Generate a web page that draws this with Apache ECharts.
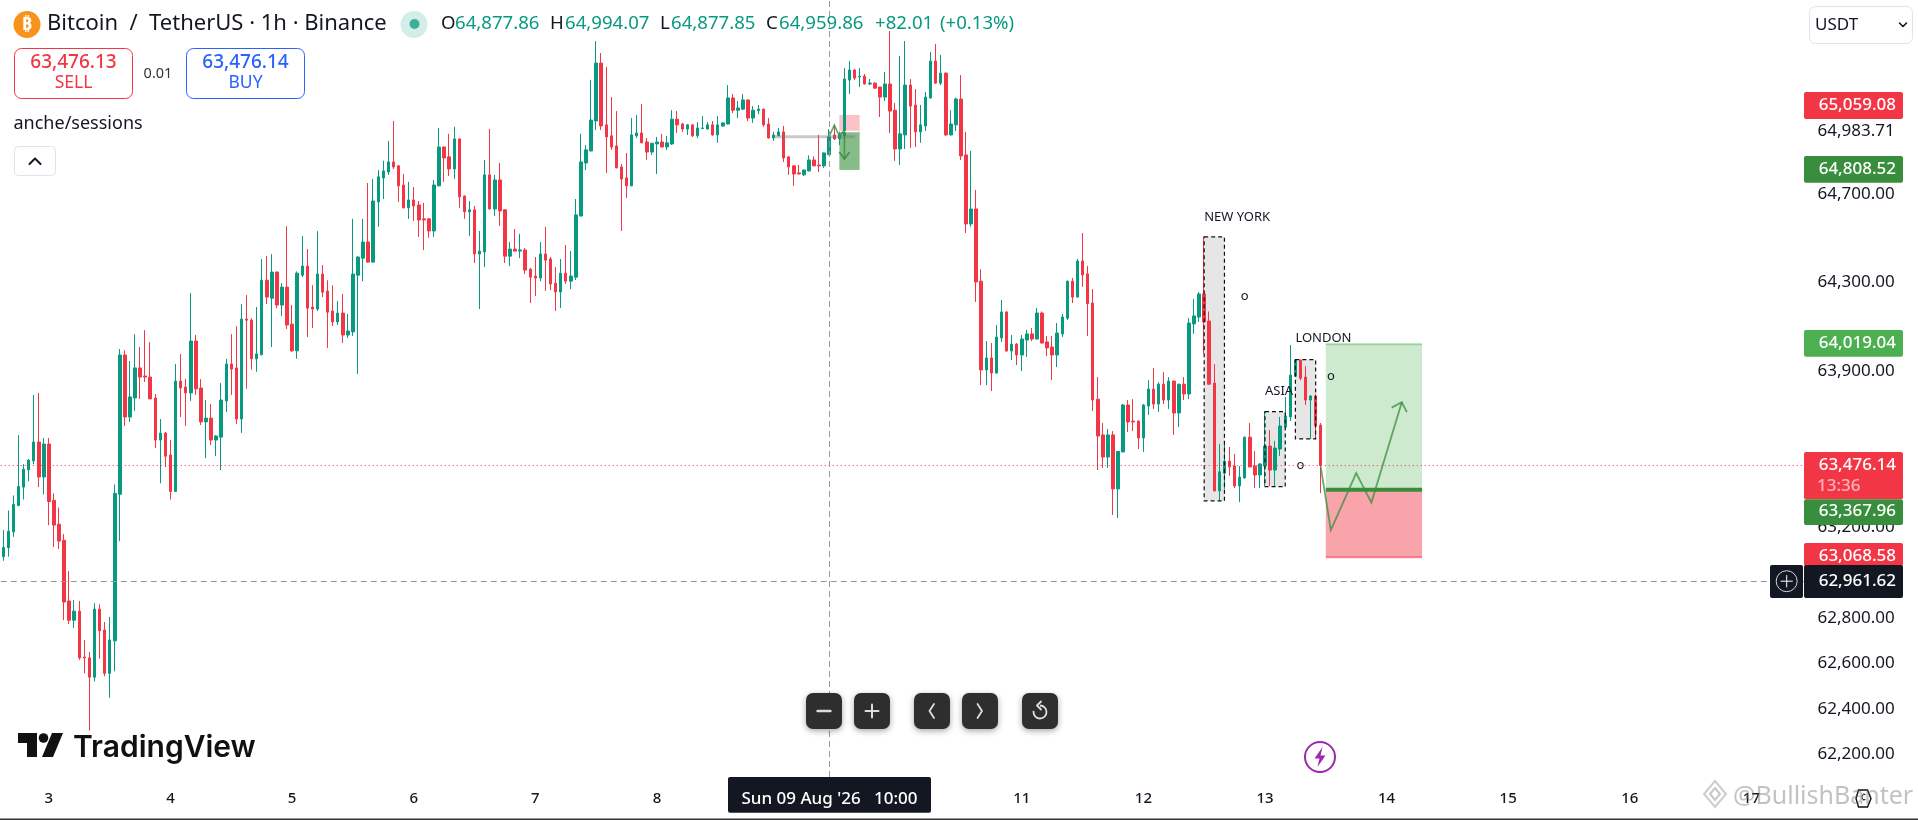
<!DOCTYPE html>
<html>
<head>
<meta charset="utf-8">
<style>html,body{margin:0;padding:0;background:#fff;overflow:hidden}#c{width:1918px;height:820px}</style>
<script src="https://cdn.jsdelivr.net/npm/echarts@6/dist/echarts.min.js"></script>
</head>
<body>
<div id="c"></div>
<script>
var opens=[63071,63111,63181,63298,63380,63457,63497,63581,63425,63572,
63321,63215,63144,62875,62790,62830,62628,62624,62539,62839,
62747,62556,62699,63348,63971,63693,63778,63913,63877,63872,
63778,63590,63621,63523,63361,63854,63827,63801,64034,63823,
63671,63688,63590,63603,63765,63931,63913,63684,64133,64128,
63954,63972,64308,64227,64345,64196,64277,64110,63990,64331,
64372,64187,64178,64336,64259,64169,64120,64160,64061,64075,
64331,64408,64481,64390,64663,64772,64799,64845,64827,64740,
64636,64672,64649,64586,64586,64531,64736,64913,64868,64813,
64950,64690,64618,64627,64427,64436,64786,64631,64763,64627,
64417,64449,64440,64445,64358,64327,64318,64427,64404,64295,
64255,64340,64304,64322,64599,64840,64895,65032,65297,65014,
64964,64918,64822,64772,64736,64964,64977,64936,64890,64927,
64936,64913,64927,65040,65018,64995,65014,64964,64997,64995,
65014,64968,65009,65018,65137,65081,65086,65128,65045,65079,
65086,65018,64954,64964,64982,64868,64827,64795,64786,64804,
64854,64831,64827,64877.86,64968,64950,64964,65219,65265,65233,
65237,65201,65205,65187,65141,65201,65081,64904,64968,65196,
65105,64982,65009,65137,65306,65205,65251,64968,65014,65132,
64877,64563,64631,64304,63904,63958,63890,64048,64165,63989,
64020,63971,64039,64066,64043,64160,64030,64007,63971,64066,
64137,64304,64232,64395,64337,64205,63773,63613,63514,63613,
63372,63537,63747,63675,63675,63599,63742,63818,63751,63840,
63769,63854,63711,63840,63796,64111,64142,64246,64124,63845,
63363,63442,63496,63474,63385,63421,63603,63474,63434,63474,
63563,63456,63550,63648,63693,63876,63948,63872,63769,63787,
63657];
var closes=[63112,63184,63303,63383,63460,63500,63581,63425,63572,63316,
63211,63140,62870,62790,62830,62624,62624,62539,62839,62743,
62556,62703,63352,63971,63693,63783,63913,63872,63872,63774,
63590,63621,63518,63361,63854,63823,63801,64034,63819,63671,
63688,63590,63608,63769,63931,63908,63684,64133,64128,63954,
63976,64308,64232,64345,64196,64277,64106,63990,64340,64372,
64182,64178,64336,64254,64164,64120,64160,64061,64079,64336,
64413,64481,64390,64667,64777,64804,64845,64822,64736,64636,
64672,64645,64581,64581,64531,64740,64913,64863,64813,64950,
64686,64618,64627,64427,64440,64786,64631,64763,64622,64417,
64449,64440,64445,64354,64322,64318,64427,64399,64291,64255,
64340,64304,64327,64604,64845,64900,65036,65297,65009,64959,
64913,64818,64767,64736,64968,64977,64932,64890,64930,64936,
64913,64932,65040,65014,64995,65014,64964,65000,65000,65014,
64968,65014,65023,65137,65081,65091,65128,65045,65081,65086,
65014,64954,64968,64982,64863,64822,64790,64790,64808,64854,
64827,64827,64886,64959.86,64950,64968,65224,65265,65228,65237,
65201,65205,65182,65141,65201,65077,64904,64973,65196,65100,
64982,65014,65141,65306,65205,65251,64968,65018,65132,64872,
64563,64631,64300,63904,63958,63890,64052,64165,63989,64020,
63971,64043,64066,64043,64160,64025,64003,63971,64070,64142,
64304,64232,64395,64332,64202,63769,63608,63514,63613,63372,
63539,63747,63671,63671,63599,63747,63818,63751,63840,63769,
63854,63711,63840,63796,64115,64147,64246,64120,63840,63363,
63448,63496,63470,63385,63425,63603,63470,63434,63483,63563,
63456,63554,63653,63697,63881,63948,63867,63769,63787,63653,
63476.14];
var highs=[63189,63276,63343,63612,63482,63505,63792,63801,63599,63599,
63352,63289,63171,63007,62879,62875,62703,62650,62865,62860,
62782,62804,63392,63998,63993,63944,64065,64007,64083,64029,
63796,63684,63626,63590,63931,63976,63863,64250,64061,63863,
63769,63751,63612,63845,63953,64065,64101,64200,64241,64137,
64187,64404,64417,64426,64348,64295,64553,64196,64348,64508,
64449,64286,64530,64377,64308,64285,64214,64246,64156,64586,
64417,64586,64749,64767,64808,64850,64941,65032,64831,64790,
64754,64731,64667,64658,64590,64763,65000,64915,64973,65005,
64952,64692,64667,64645,64531,64854,64995,64786,64840,64629,
64481,64540,64518,64454,64363,64413,64481,64550,64413,64367,
64404,64468,64440,64676,64973,64922,65220,65398,65343,65279,
65141,65077,64836,64886,65045,65059,65109,64954,64932,64959,
64973,64964,65081,65077,65023,65018,65016,65027,65054,65027,
65032,65054,65025,65196,65155,65123,65155,65130,65100,65105,
65088,65045,64982,65000,65009,64870,64829,64831,64810,64875,
64870,64968,64888,64994.07,65014,64986,65274,65306,65270,65274,
65247,65224,65210,65188,65256,65444,65114,65330,65398,65224,
65178,65105,65164,65348,65385,65334,65253,65081,65139,65242,
64982,64895,64717,64358,64034,64025,64106,64219,64167,64061,
64025,64061,64084,64093,64183,64167,64057,64057,64115,64156,
64306,64318,64405,64522,64373,64268,63872,63666,63639,63630,
63541,63751,63769,63773,63677,63751,63858,63912,63849,63894,
63872,63856,63842,63872,64137,64223,64255,64504,64167,63930,
63572,63581,63559,63528,63474,63605,63666,63541,63487,63717,
63635,63586,63693,63782,64016,63950,63950,63921,63791,63796,
63666];
var lows=[63053,63071,63159,63295,63325,63406,63482,63380,63348,63211,
63114,63105,62790,62773,62756,62615,62556,62305,62521,62620,
62543,62449,62565,63140,63653,63671,63720,63774,63850,63774,
63554,63397,63469,63325,63358,63693,63653,63765,63792,63657,
63509,63567,63518,63455,63715,63792,63662,63622,63820,63905,
63896,63970,64200,64007,64182,64146,64088,63985,63954,64322,
64052,64092,64169,64232,64003,64102,64106,64025,64048,64057,
63886,64304,64388,64388,64550,64676,64786,64813,64663,64634,
64586,64577,64504,64445,64500,64504,64734,64754,64781,64767,
64636,64586,64509,64386,64178,64367,64629,64599,64554,64386,
64372,64438,64408,64336,64205,64237,64304,64260,64264,64169,
64183,64291,64268,64309,64597,64808,64893,64991,64991,64795,
64900,64816,64531,64681,64734,64954,64930,64854,64877,64790,
64911,64900,64922,64977,64982,64968,64959,64954,64995,64993,
64964,64932,65005,65016,65068,65045,65081,65032,65023,65063,
65005,64952,64941,64962,64845,64786,64736,64788,64781,64802,
64825,64799,64818,64877.85,64945,64922,64962,65155,65219,65187,
65199,65196,65180,65050,65123,64977,64850,64831,64904,64909,
64913,64932,64986,65135,65201,65196,64964,64966,64986,64854,
64522,64550,64210,63836,63836,63809,63888,64030,63987,63948,
63926,63899,63962,64034,64041,64023,63966,63858,63917,64052,
64128,64205,64230,64278,64057,63720,63456,63465,63465,63256,
63243,63535,63626,63630,63550,63537,63702,63729,63715,63751,
63729,63613,63648,63769,63773,64066,64120,63978,63838,63361,
63319,63372,63430,63376,63313,63419,63468,63376,63376,63385,
63385,63385,63519,63642,63675,63874,63858,63747,63595,63595,
63354];

var dayTickIndex=[9,33,57,81,105,129,153,177,201,225,249,273,297,321,345];
var dayTickLabels=['3','4','5','6','7','8','9','10','11','12','13','14','15','16','17'];
var priceTicks=[64983.71,64700,64300,63900,63500,63200,62800,62600,62400,62200];
var lastPrice=63476.14, crossPrice=62961.62, crossIndex=163;

// session boxes: [first bar, last bar, top price, bottom price]
var sessionBoxes=[[237,241,64504,63319],[249,253,63717,63382],[255,259,63950,63595]];
// text notes: [text, bar, price, align]
var notes=[['NEW YORK',237,64594,'left'],['ASIA',249,63809,'left'],['LONDON',255,64047,'left'],
           ['o',245,64237,'center'],['o',262,63877,'center'],['o',256,63476,'center']];
// positions: [first bar, last bar, entry, profit level, stop level]
var longPos=[261,280,63367.96,64019.04,63068.58];
var shortPos=[165,169,64983.71,64808.52,65059.08];
var longPath=[[260,63470],[262,63189],[267,63442],[270,63311],[276,63759]];
var longHead=[[274,63735],[276,63759],[277,63715]];
var shortPath=[[163,64963],[164,65013],[165,64963],[166,64991],[166,64858]];
var shortHead=[[165,64890],[166,64858],[167,64890]];
var greyRange=[152,168,64960];

var categories=[];
(function(){var t=Date.UTC(2026,7,2,15);for(var i=0;i<356;i++)categories.push(new Date(t+i*3600000).toISOString().slice(0,16));})();
var candles=opens.map(function(o,i){return [o,closes[i],lows[i],highs[i]];});

var FONT='"Noto Sans",sans-serif';
var INK='#131722', RED='#f23645', GREEN='#089981', TG='#388e3c', TL='#4caf50', BLUE='#2962ff';

function txt(s,x,y,size,fill,align,weight){
  return {type:'text',z:100,silent:true,x:x,y:y,style:{text:s,x:0,y:0,fill:fill||INK,
    font:(weight||'normal')+' '+size+'px '+FONT,textAlign:align||'left',textVerticalAlign:'middle'}};
}
function rect(x,y,w,h,fill,stroke,r,extra){
  var st={fill:fill||'none'};if(stroke){st.stroke=stroke;st.lineWidth=1;}
  if(extra)for(var k in extra)st[k]=extra[k];
  return {type:'rect',z:99,silent:true,shape:{x:x,y:y,width:w,height:h,r:r||0},style:st};
}
function line(pts,stroke,w,z){return {type:'polyline',z:z||101,silent:true,shape:{points:pts},style:{stroke:stroke,lineWidth:w||1,fill:'none',lineCap:'round',lineJoin:'round'}};}
function circ(cx,cy,r,fill,stroke,w){return {type:'circle',z:100,silent:true,shape:{cx:cx,cy:cy,r:r},style:{fill:fill||'none',stroke:stroke||null,lineWidth:w||1}};}
function poly(pts,fill,stroke,w){return {type:'polygon',z:100,silent:true,shape:{points:pts},style:{fill:fill||'none',stroke:stroke||null,lineWidth:w||1}};}

var gfx=[];
// header
gfx.push(circ(27,24.5,13.5,'#f7931a'));
gfx.push(txt('₿',27,24.5,18,'#fff','center','bold'));
gfx.push(txt('Bitcoin  /  TetherUS · 1h · Binance',47,24,22,INK));
gfx.push(circ(414,24.5,13.5,'#d3eee9'));
gfx.push(circ(414.5,24,5,'#3fae9b'));
[['O',441,'64,877.86',455],['H',550,'64,994.07',565],['L',660,'64,877.85',671],['C',766,'64,959.86',779]].forEach(function(a){
  gfx.push(txt(a[0],a[1],24,18.6,INK));gfx.push(txt(a[2],a[3],24,18.6,GREEN));
});
gfx.push(txt('+82.01',875,24,18.6,GREEN));
gfx.push(txt('(+0.13%)',940,24,18.6,GREEN));
// trade buttons
gfx.push(rect(14.5,48.5,118,50,'#fff',RED,7));
gfx.push(txt('63,476.13',73.5,62.5,19,RED,'center','500'));
gfx.push(txt('SELL',73.5,83,17.5,RED,'center'));
gfx.push(txt('0.01',158,74,14.5,'#333','center'));
gfx.push(rect(186.5,48.5,118,50,'#fff',BLUE,7));
gfx.push(txt('63,476.14',245.5,62.5,19,BLUE,'center','500'));
gfx.push(txt('BUY',245.5,83,17.5,BLUE,'center'));
gfx.push(txt('anche/sessions',13.5,124,18,INK));
gfx.push(rect(14.5,146.5,41,29,'#fff','#e0e3eb',4));
gfx.push(line([[29.5,164],[35,158.5],[40.5,164]],INK,2));
// currency select
gfx.push(rect(1809.5,6.5,103,37,'#fff','#e0e3eb',6));
gfx.push(txt('USDT',1815,25,17,INK));
gfx.push(line([[1899.5,23],[1903,26.5],[1906.5,23]],INK,1.6));
// price tags
function tag(y0,y1,fill,s,yc){gfx.push(rect(1804,y0,99,y1-y0,fill,null,2));gfx.push(txt(s,1896,yc,17,'#fff','right','500'));}
tag(92,119,RED,'65,059.08',105);
tag(156,182.7,TG,'64,808.52',169);
tag(330,356.7,TL,'64,019.04',343);
tag(452,499.3,RED,'63,476.14',465);
gfx.push(txt('13:36',1817,486,17,'rgba(255,255,255,0.62)','left','500'));
tag(499.3,525,TG,'63,367.96',511);
tag(543,566,RED,'63,068.58',556);
tag(565,598,INK,'62,961.62',581.5);
gfx.push(rect(1770,565,33,33,INK,null,2));
gfx.push(circ(1786.7,581.2,10.5,null,'#d1d4dc',1));
gfx.push(line([[1781,581.2],[1792.4,581.2]],'#fff',1));
gfx.push(line([[1786.7,575.5],[1786.7,587]],'#fff',1));
// time tag
gfx.push(rect(728,777,203,35.7,INK,null,2));
gfx.push(txt("Sun 09 Aug '26   10:00",829.5,799,17,'#fff','center','500'));
// nav buttons
[806,854,914,962,1022].forEach(function(x){
  gfx.push(rect(x,693,36,36,'#2e2e2e',null,7,{shadowBlur:6,shadowColor:'rgba(0,0,0,0.35)',shadowOffsetY:2}));
});
gfx.push(line([[817.5,711],[830.5,711]],'#ddd',2.4));
gfx.push(line([[865.5,711],[878.5,711]],'#ddd',2));gfx.push(line([[872,704.5],[872,717.5]],'#ddd',2));
gfx.push(line([[934,704],[929.5,711],[934,718]],'#ddd',1.8));
gfx.push(line([[977.5,704],[982,711],[977.5,718]],'#ddd',1.8));
gfx.push({type:'arc',z:101,silent:true,shape:{cx:1040,cy:712,r:6.5,startAngle:-1.57,endAngle:3.3,clockwise:true},style:{stroke:'#ddd',lineWidth:1.8,fill:'none'}});
gfx.push(line([[1041,701.5],[1037,705.5],[1041,709.5]],'#ddd',1.8));
// TradingView logo
gfx.push(poly([[18,733],[37,733],[37,757],[27,757],[27,743],[18,743]],'#111'));
gfx.push(circ(43.5,738,4.8,'#111'));
gfx.push(poly([[52,733],[63,733],[53,757],[42,757]],'#111'));
gfx.push(txt('TradingView',73,748,30,'#111','left','600'));
gfx[gfx.length-1].style.font='600 30px Inter,"Noto Sans",sans-serif';
// lightning badge
gfx.push(circ(1320,757,15,'#fff','#9c27b0',2));
gfx.push(poly([[1322.5,747],[1314.5,758.5],[1319.5,758.5],[1317.5,767],[1325.5,755.5],[1320.5,755.5]],'#9c27b0'));
// bottom border
gfx.push(rect(0,818.5,1918,1.5,'#333'));
// exchange hexagon icon
gfx.push(poly([[1856,798.5],[1858.5,790],[1867.5,790],[1871,798.5],[1867.5,807],[1858.5,807]],'#fff','#111',1.4));
gfx.push(txt('¢',1863.5,798.5,10,'#111','center'));
// watermark
gfx.push(poly([[1715,781],[1726,794],[1715,807],[1704,794]],'rgba(255,255,255,0.6)','rgba(130,130,130,0.4)',2));
gfx.push(poly([[1715,788],[1720,794],[1715,800],[1710,794]],null,'rgba(130,130,130,0.45)',2));
gfx.push(txt('@BullishBanter',1733,797,25,'rgba(110,110,110,0.42)'));

function toPts(api,arr){return arr.map(function(p){return api.coord(p);});}
function boxShape(api,a,b,top,bot){
  var p0=api.coord([a,top]),p1=api.coord([b,bot]);
  return {x:p0[0],y:p0[1],width:p1[0]-p0[0],height:p1[1]-p0[1]};
}
function hLine(api,a,b,price,color,w){
  return {type:'line',shape:{x1:api.coord([a,price])[0],y1:api.coord([a,price])[1],x2:api.coord([b,price])[0],y2:api.coord([b,price])[1]},style:{stroke:color,lineWidth:w}};
}

var option={
  animation:false,
  backgroundColor:'#fff',
  grid:{left:0.77,top:0,width:1803.85,height:777,containLabel:false},
  xAxis:{type:'category',data:categories,boundaryGap:true,
    axisLine:{show:false},axisTick:{show:false},splitLine:{show:false},
    axisLabel:{interval:function(i){return dayTickIndex.indexOf(i)>=0;},hideOverlap:false,
      formatter:function(v,i){var k=dayTickIndex.indexOf(i);return k>=0?dayTickLabels[k]:'';},
      margin:14,color:INK,fontFamily:FONT,fontSize:15,fontWeight:500}},
  yAxis:{type:'log',logBase:10,position:'right',min:62102,max:65587,scale:true,
    axisLine:{show:false},axisTick:{show:false},splitLine:{show:false},minorTick:{show:false},
    axisLabel:{customValues:priceTicks,margin:13,color:INK,fontFamily:FONT,fontSize:17,align:'left',
      formatter:function(v){return Number(v).toLocaleString('en-US',{minimumFractionDigits:2,maximumFractionDigits:2});}}},
  series:[
    {type:'custom',z:1,silent:true,clip:false,data:[0],renderItem:function(p,api){
      var ch=[];
      sessionBoxes.forEach(function(b){
        ch.push({type:'rect',shape:boxShape(api,b[0],b[1],b[2],b[3]),style:{fill:'#e6e6e6'}});
      });
      var L=longPos;
      ch.push({type:'rect',shape:boxShape(api,L[0],L[1],L[3],L[2]),style:{fill:'rgba(76,175,80,0.28)'}});
      ch.push({type:'rect',shape:boxShape(api,L[0],L[1],L[2],L[4]),style:{fill:'rgba(242,54,69,0.45)'}});
      var S=shortPos;
      ch.push({type:'rect',shape:boxShape(api,S[0],S[1],S[4],S[2]),style:{fill:'rgba(242,54,69,0.3)'}});
      ch.push({type:'rect',shape:boxShape(api,S[0],S[1],S[2],S[3]),style:{fill:'rgba(56,142,60,0.6)'}});
      return {type:'group',children:ch};
    }},
    {type:'candlestick',z:2,data:candles,barWidth:3,clip:false,
      itemStyle:{color:GREEN,color0:RED,borderColor:GREEN,borderColor0:RED,borderWidth:1},
      markLine:{silent:true,symbol:'none',animation:false,label:{show:false},
        data:[
          {yAxis:lastPrice,lineStyle:{color:RED,type:[1,3],width:1}},
          {yAxis:crossPrice,lineStyle:{color:'#9598a1',type:[6,4],width:1}},
          {xAxis:categories[crossIndex],lineStyle:{color:'#9598a1',type:[6,4],width:1}}
        ]}},
    {type:'custom',z:3,silent:true,clip:false,data:[0],renderItem:function(p,api){
      var ch=[];
      sessionBoxes.forEach(function(b){
        ch.push({type:'rect',shape:boxShape(api,b[0],b[1],b[2],b[3]),style:{fill:null,stroke:'#111',lineWidth:1.2,lineDash:[4,3]}});
      });
      var L=longPos,S=shortPos;
      ch.push(hLine(api,L[0],L[1],L[2],'#388e3c',4));
      ch.push(hLine(api,L[0],L[1],L[3],'rgba(76,175,80,0.45)',2));
      ch.push(hLine(api,L[0],L[1],L[4],'rgba(242,54,69,0.55)',2));
      ch.push(hLine(api,greyRange[0],greyRange[1],greyRange[2],'rgba(120,120,120,0.4)',3));
      ch.push(hLine(api,S[0],S[1],S[2],'#fff',1.5));
      ch.push({type:'polyline',shape:{points:toPts(api,longPath)},style:{stroke:'rgba(56,142,60,0.75)',lineWidth:1.8,fill:null}});
      ch.push({type:'polyline',shape:{points:toPts(api,longHead)},style:{stroke:'rgba(56,142,60,0.75)',lineWidth:1.8,fill:null}});
      ch.push({type:'polyline',shape:{points:toPts(api,shortPath)},style:{stroke:'rgba(56,142,60,0.8)',lineWidth:1.6,fill:null}});
      ch.push({type:'polyline',shape:{points:toPts(api,shortHead)},style:{stroke:'rgba(56,142,60,0.9)',lineWidth:1.6,fill:null}});
      notes.forEach(function(n){
        var c=api.coord([n[1],n[2]]);
        ch.push({type:'text',x:c[0],y:c[1],style:{text:n[0],fill:INK,font:'13px '+FONT,textAlign:n[3],textVerticalAlign:'middle'}});
      });
      return {type:'group',children:ch};
    }}
  ],
  graphic:{elements:gfx}
};
var chart=echarts.init(document.getElementById('c'),null,{renderer:'canvas',width:1918,height:820});
chart.setOption(option);
</script>
</body>
</html>
